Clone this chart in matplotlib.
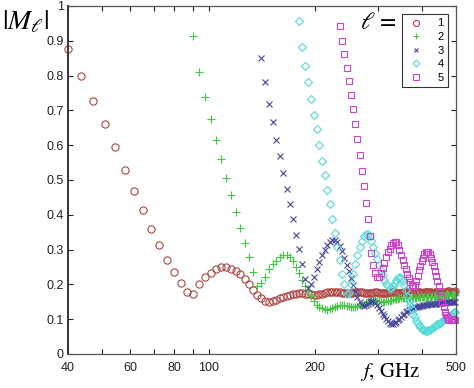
import numpy as np
import matplotlib
matplotlib.use("Agg")
import matplotlib.pyplot as plt
from matplotlib.ticker import FixedLocator, FixedFormatter, NullLocator

# frequency grid, GHz
freq = [40.0, 43.6, 47.2, 50.8, 54.4, 58.0, 61.6, 65.2, 68.8, 72.4,
        76.0, 79.6, 83.2, 86.8, 90.4, 94.0, 97.6, 101.2, 104.8, 108.4,
        112.0, 115.6, 119.2, 122.8, 126.4, 130.0, 133.6, 137.2, 140.8, 144.4,
        148.0, 151.6, 155.2, 158.8, 162.4, 166.0, 169.6, 173.2, 176.8, 180.4,
        184.0, 187.6, 191.2, 194.8, 198.4, 202.0, 205.6, 209.2, 212.8, 216.4,
        220.0, 223.6, 227.2, 230.8, 234.4, 238.0, 241.6, 245.2, 248.8, 252.4,
        256.0, 259.6, 263.2, 266.8, 270.4, 274.0, 277.6, 281.2, 284.8, 288.4,
        292.0, 295.6, 299.2, 302.8, 306.4, 310.0, 313.6, 317.2, 320.8, 324.4,
        328.0, 331.6, 335.2, 338.8, 342.4, 346.0, 349.6, 353.2, 356.8, 360.4,
        364.0, 367.6, 371.2, 374.8, 378.4, 382.0, 385.6, 389.2, 392.8, 396.4,
        400.0, 403.6, 407.2, 410.8, 414.4, 418.0, 421.6, 425.2, 428.8, 432.4,
        436.0, 439.6, 443.2, 446.8, 450.4, 454.0, 457.6, 461.2, 464.8, 468.4,
        472.0, 475.6, 479.2, 482.8, 486.4, 490.0, 493.6, 497.2]

m1 = [0.876, 0.800, 0.728, 0.660, 0.594, 0.530, 0.469, 0.413, 0.360, 0.313,
      0.270, 0.236, 0.204, 0.178, 0.173, 0.201, 0.220, 0.234, 0.245, 0.249,
      0.249, 0.245, 0.239, 0.230, 0.216, 0.200, 0.184, 0.170, 0.160, 0.153,
      0.150, 0.152, 0.156, 0.160, 0.164, 0.167, 0.170, 0.172, 0.173, 0.174,
      0.174, 0.173, 0.172, 0.171, 0.170, 0.170, 0.171, 0.173, 0.175, 0.177,
      0.178, 0.179, 0.179, 0.178, 0.177, 0.176, 0.175, 0.174, 0.174, 0.175,
      0.176, 0.177, 0.178, 0.178, 0.177, 0.176, 0.175, 0.174, 0.174, 0.175,
      0.176, 0.177, 0.177, 0.176, 0.175, 0.174, 0.174, 0.175, 0.176, 0.177,
      0.178, 0.178, 0.177, 0.176, 0.175, 0.175, 0.176, 0.177, 0.178, 0.178,
      0.177, 0.176, 0.175, 0.175, 0.176, 0.177, 0.178, 0.179, 0.178, 0.177,
      0.176, 0.176, 0.177, 0.178, 0.179, 0.179, 0.178, 0.177, 0.176, 0.176,
      0.177, 0.178, 0.179, 0.179, 0.178, 0.177, 0.176, 0.176, 0.177, 0.178,
      0.179, 0.180, 0.180, 0.179, 0.178, 0.177, 0.178, 0.180]

m2 = [0.915, 0.811, 0.738, 0.675, 0.615, 0.559,
      0.505, 0.456, 0.408, 0.361, 0.318, 0.279, 0.237, 0.195, 0.205, 0.222,
      0.243, 0.258, 0.268, 0.278, 0.284, 0.284, 0.278, 0.266, 0.250, 0.234,
      0.214, 0.196, 0.182, 0.166, 0.152, 0.142, 0.136, 0.131, 0.128, 0.127,
      0.128, 0.131, 0.135, 0.139, 0.141, 0.142, 0.141, 0.139, 0.137, 0.135,
      0.135, 0.136, 0.138, 0.140, 0.142, 0.145, 0.148, 0.150, 0.152, 0.153,
      0.154, 0.154, 0.153, 0.152, 0.151, 0.150, 0.150, 0.151, 0.152, 0.153,
      0.155, 0.156, 0.157, 0.158, 0.159, 0.160, 0.160, 0.161, 0.161, 0.161,
      0.161, 0.161, 0.161, 0.162, 0.162, 0.162, 0.162, 0.163, 0.163, 0.163,
      0.163, 0.164, 0.164, 0.164, 0.165, 0.165, 0.165, 0.165, 0.166, 0.166,
      0.166, 0.166, 0.167, 0.167, 0.167, 0.168, 0.168, 0.168, 0.168, 0.169,
      0.169, 0.169, 0.169, 0.170, 0.170, 0.170, 0.170, 0.170]

m3 = [0.851, 0.781,
      0.719, 0.666, 0.615, 0.568, 0.520, 0.475, 0.431, 0.387, 0.343, 0.301,
      0.258, 0.215, 0.190, 0.200, 0.222, 0.245, 0.265, 0.285, 0.300, 0.313,
      0.322, 0.327, 0.328, 0.322, 0.310, 0.295, 0.277, 0.257, 0.238, 0.218,
      0.198, 0.180, 0.165, 0.150, 0.140, 0.138, 0.140, 0.145, 0.149, 0.151,
      0.151, 0.147, 0.140, 0.132, 0.124, 0.116, 0.108, 0.101, 0.095, 0.090,
      0.087, 0.086, 0.088, 0.092, 0.097, 0.102, 0.107, 0.112, 0.116, 0.120,
      0.123, 0.126, 0.128, 0.130, 0.132, 0.134, 0.135, 0.136, 0.137, 0.138,
      0.139, 0.140, 0.141, 0.142, 0.142, 0.143, 0.143, 0.144, 0.144, 0.145,
      0.145, 0.145, 0.146, 0.146, 0.146, 0.147, 0.147, 0.147, 0.147, 0.148,
      0.148, 0.148, 0.148, 0.148, 0.149, 0.149, 0.149, 0.149]

m4 = [0.958,
      0.882, 0.828, 0.782, 0.734, 0.688, 0.646, 0.600, 0.555, 0.514, 0.471,
      0.431, 0.387, 0.349, 0.308, 0.270, 0.230, 0.200, 0.172, 0.175, 0.200,
      0.230, 0.258, 0.285, 0.307, 0.325, 0.338, 0.345, 0.345, 0.338, 0.325,
      0.308, 0.290, 0.272, 0.255, 0.240, 0.226, 0.213, 0.202, 0.194, 0.190,
      0.190, 0.195, 0.203, 0.212, 0.218, 0.220, 0.218, 0.210, 0.198, 0.183,
      0.168, 0.153, 0.140, 0.128, 0.116, 0.105, 0.096, 0.088, 0.082, 0.077,
      0.073, 0.070, 0.068, 0.067, 0.067, 0.068, 0.070, 0.072, 0.074, 0.077,
      0.080, 0.082, 0.085, 0.087, 0.090, 0.092, 0.095, 0.097, 0.100, 0.102,
      0.105, 0.107, 0.110, 0.112, 0.115, 0.117, 0.120, 0.122]

m5 = [0.943, 0.898, 0.862, 0.823, 0.784, 0.744,
      0.704, 0.660, 0.617, 0.572, 0.527, 0.483, 0.433, 0.387, 0.340, 0.290,
      0.255, 0.233, 0.222, 0.222, 0.232, 0.248, 0.262, 0.278, 0.292, 0.303,
      0.313, 0.320, 0.323, 0.321, 0.312, 0.298, 0.285, 0.270, 0.257, 0.243,
      0.230, 0.218, 0.207, 0.198, 0.194, 0.198, 0.210, 0.225, 0.240, 0.253,
      0.266, 0.277, 0.286, 0.292, 0.294, 0.292, 0.287, 0.277, 0.265, 0.252,
      0.238, 0.224, 0.210, 0.195, 0.180, 0.165, 0.150, 0.135, 0.122, 0.112,
      0.105, 0.100, 0.098, 0.098, 0.100, 0.102, 0.100, 0.098]

series = [m1, m2, m3, m4, m5]
labels = ["1", "2", "3", "4", "5"]
markers = ["o", "+", "x", "D", "s"]
colors = ["#b04444", "#44c844", "#45459e", "#55dada", "#cc44cc"]
msizes = [5.2, 5.2, 4.0, 4.0, 4.4]

xticks = [40, 50, 60, 70, 80, 90, 100, 200, 300, 400, 500]
xticklabels = ["40", "", "60", "", "80", "", "100", "200", "", "", "500"]
yticks = [0, 0.1, 0.2, 0.3, 0.4, 0.5, 0.6, 0.7, 0.8, 0.9, 1.0]
yticklabels = ["0", "0.1", "0.2", "0.3", "0.4", "0.5", "0.6", "0.7", "0.8", "0.9", "1"]

plt.rcParams['font.family'] = ['Liberation Sans', 'DejaVu Sans']
plt.rcParams['mathtext.fontset'] = 'stix'

fig = plt.figure(figsize=(4.74, 3.88), dpi=100)
ax = fig.add_axes([68/474, 1-354/388, (456-68)/474, (354-6)/388])

freq_arr = np.array(freq)
for vals, lab, mk, c, ms in zip(series, labels, markers, colors, msizes):
    x = freq_arr[len(freq_arr) - len(vals):]
    filled = mk in ("+", "x")
    ax.plot(x, vals, linestyle="none", marker=mk, markersize=ms,
            markerfacecolor=c if filled else "none", markeredgecolor=c,
            markeredgewidth=0.8, label=lab, clip_on=False)

ax.set_xscale("log")
ax.set_xlim(40, 500)
ax.set_ylim(0, 1)
ax.xaxis.set_major_locator(FixedLocator(xticks))
ax.xaxis.set_major_formatter(FixedFormatter(xticklabels))
ax.xaxis.set_minor_locator(NullLocator())
ax.yaxis.set_major_locator(FixedLocator(yticks))
ax.yaxis.set_major_formatter(FixedFormatter(yticklabels))
ax.tick_params(direction="in", length=3.5, width=0.8, top=True, right=True,
               labelsize=9, colors="#222222", pad=3)
ax.tick_params(axis="x", pad=6)
for s in ax.spines.values():
    s.set_color("#555555")
    s.set_linewidth(0.9)
ax.spines["left"].set_linewidth(1.4)
ax.spines["left"].set_color("#333333")

leg = ax.legend(loc="upper right", bbox_to_anchor=((448-68)/388, (354-14)/348),
                fontsize=8, frameon=True, fancybox=False, edgecolor="black",
                labelspacing=0.32, handlelength=1.8, handletextpad=1.0,
                borderpad=0.4, markerscale=0.85, borderaxespad=0)
leg.get_frame().set_linewidth(0.8)

fig.text(378/474, 1-23/388, r"$\ell\,=$", fontsize=17, ha="center", va="center")
fig.text(25/474, 1-22/388, r"$|M_{\ell}|$", fontsize=20, ha="center", va="center")
fig.text(390/474, 1-372/388, r"$f$, GHz", fontsize=15, ha="center", va="center",
         family="STIXGeneral")

fig.savefig("out.png", dpi=100)
